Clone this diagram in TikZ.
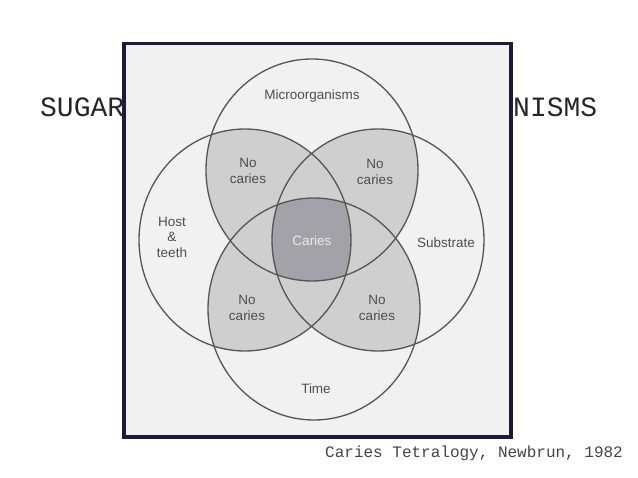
\documentclass[tikz,border=0pt]{standalone}
\usepackage{fontspec}
\setmainfont{Liberation Sans}
\setmonofont{Liberation Mono}
\definecolor{framec}{HTML}{1C1C3A}
\definecolor{bgc}{HTML}{F1F1F1}
\definecolor{lensc}{HTML}{CFCFCF}
\definecolor{corec}{HTML}{A2A2A8}
\definecolor{linec}{HTML}{555555}
\definecolor{labc}{HTML}{4E4E4E}
\definecolor{capc}{HTML}{444444}
\tikzset{
  er/.style={x radius=106, y radius=111},
  big/.style={anchor=base west, inner sep=0pt, font=\ttfamily\fontsize{28}{30}\selectfont, text=black!85},
  lab/.style={align=center, inner sep=0pt, text=labc, font=\fontsize{13.5}{15.5}\selectfont},
  ring/.style={draw=linec, line width=1.3pt}
}
\begin{document}
\begin{tikzpicture}[x=1pt,y=-1pt]
\useasboundingbox (0,0) rectangle (638,478);
\node[big] (sugar) at (40,117) {SUGAR};
\node[big] (nisms) at (513,117) {NISMS};
\node[anchor=base west, inner sep=0pt, text=capc, font=\ttfamily\fontsize{16}{18}\selectfont] (cap) at (325,458) {Caries Tetralogy, Newbrun, 1982};
% scanned figure background
\fill[bgc] (124,43.5) rectangle (511,437);
\coordinate (cT) at (312,170);
\coordinate (cL) at (245,240);
\coordinate (cR) at (378,240);
\coordinate (cB) at (314,309);
% pairwise overlaps
\begin{scope}\clip (cT) ellipse [er]; \fill[lensc] (cL) ellipse [er]; \end{scope}
\begin{scope}\clip (cT) ellipse [er]; \fill[lensc] (cR) ellipse [er]; \end{scope}
\begin{scope}\clip (cT) ellipse [er]; \fill[lensc] (cB) ellipse [er]; \end{scope}
\begin{scope}\clip (cL) ellipse [er]; \fill[lensc] (cR) ellipse [er]; \end{scope}
\begin{scope}\clip (cL) ellipse [er]; \fill[lensc] (cB) ellipse [er]; \end{scope}
\begin{scope}\clip (cR) ellipse [er]; \fill[lensc] (cB) ellipse [er]; \end{scope}
% all four
\begin{scope}
  \clip (cT) ellipse [er];
  \clip (cL) ellipse [er];
  \clip (cR) ellipse [er];
  \fill[corec] (cB) ellipse [er];
\end{scope}
\draw[ring] (cT) ellipse [er];
\draw[ring] (cL) ellipse [er];
\draw[ring] (cR) ellipse [er];
\draw[ring] (cB) ellipse [er];
% labels
\node[lab] (micro) at (312,96) {Microorganisms};
\node[lab] (host) at (172,237) {Host\\\&\\teeth};
\node[lab] (subs) at (446,243) {Substrate};
\node[lab] (time) at (316,389) {Time};
\node[lab] (nc1) at (248,171) {No\\caries};
\node[lab] (nc2) at (375,172) {No\\caries};
\node[lab] (nc3) at (247,308) {No\\caries};
\node[lab] (nc4) at (377,308) {No\\caries};
\node[lab, text=white!92!black] (car) at (312,241) {Caries};
% frame
\draw[framec, line width=3.6pt] (124,43.5) rectangle (511,437);
\end{tikzpicture}
\end{document}
